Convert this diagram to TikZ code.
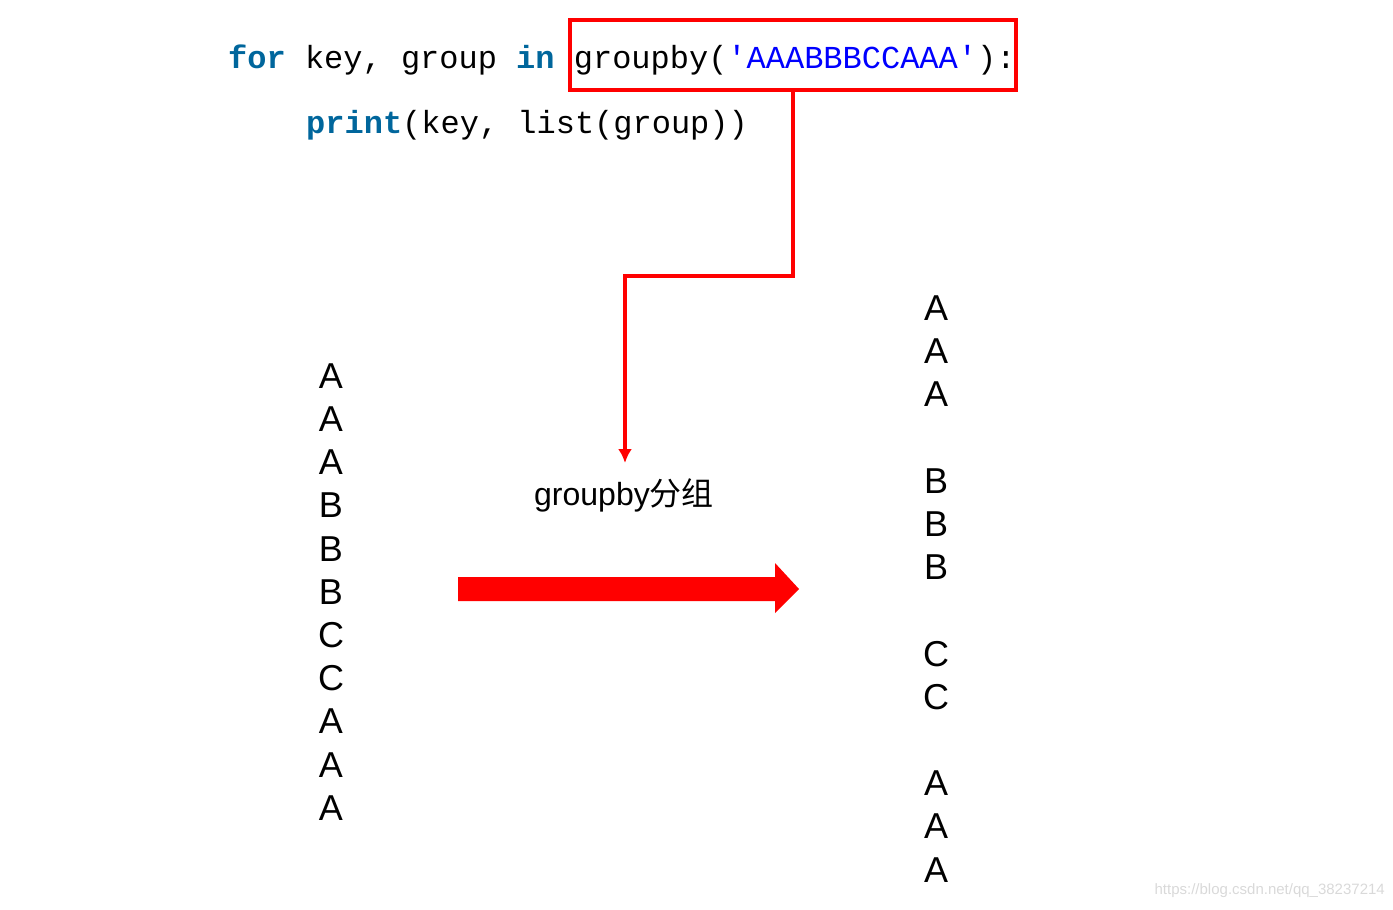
\documentclass[tikz,border=0pt]{standalone}
\usetikzlibrary{arrows.meta}
\usepackage{fontspec}
\setmainfont{Liberation Sans}
\setmonofont{Liberation Mono}
\newfontfamily\cjk{Noto Sans CJK SC}
\definecolor{kw}{HTML}{00669C}
\definecolor{str}{HTML}{0000FF}
\begin{document}
\begin{tikzpicture}[x=1pt,y=-1pt]
\tikzset{code/.style={anchor=base west,inner sep=0pt,font=\fontsize{32}{36}\selectfont\ttfamily},
letter/.style={inner sep=0pt,font=\fontsize{36}{40}\selectfont},
redline/.style={draw=red,line width=4pt}}
\useasboundingbox (0,0) rectangle (1393,910);
\node[code] (l1) at (228,68) {\textbf{\color{kw}for} key, group \textbf{\color{kw}in} groupby(\color{str}'AAABBBCCAAA'\color{black}):};
\node[code] (l2) at (306,133) {\textbf{\color{kw}print}(key, list(group))};
\node[redline,minimum width=446,minimum height=70,inner sep=0pt] (box) at (793,55) {};
\coordinate (t) at (625,463);
\draw[redline,-{Latex[length=14pt,width=14pt]}] (box.south) |- (625,276) -- (t);
\node[inner sep=0pt,font=\fontsize{32}{36}\selectfont] (lab) at (624,495) {groupby{\cjk 分组}};
\fill[red] (458,577) -- (775,577) -- (775,563) -- (799,589) -- (775,613) -- (775,601) -- (458,601) -- cycle;
\foreach \c [count=\i] in {A,A,A,B,B,B,C,C,A,A,A}
  \node[letter] (L\i) at (331,{376+43.2*(\i-1)}) {\c};
\foreach \c/\y [count=\i] in {A/308,A/351,A/394,B/481,B/524,B/567,C/654,C/697,A/783,A/826,A/870}
  \node[letter] (R\i) at (936,\y) {\c};
\node[inner sep=0pt,anchor=east,text=black!15,font=\fontsize{15}{17}\selectfont] (wm) at (1385,891) {https://blog.csdn.net/qq\_38237214};
\end{tikzpicture}
\end{document}
